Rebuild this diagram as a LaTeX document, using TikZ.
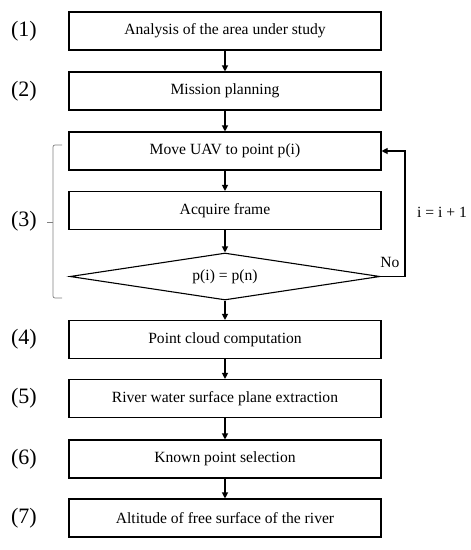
\documentclass[tikz,border=0pt]{standalone}
\usepackage{fontspec}
\setmainfont{Liberation Serif}
\usetikzlibrary{shapes.geometric,arrows.meta}

\begin{document}
\begin{tikzpicture}[x=1pt,y=-1pt,every node/.style = {font=\fontsize{15.6}{18}\selectfont},stage/.style = {shape = rectangle, draw, line width = 1.1pt, minimum width = 312pt, minimum height = 38pt, inner sep = 0pt},test/.style = {shape = diamond, draw, line width = 1.1pt, aspect = 6.5, minimum width = 310pt, minimum height = 47pt, inner sep = 0pt},tag/.style = {font = \fontsize{22}{24}\selectfont},black edge/.style = {-{Triangle[length=6pt,width=6pt]}, line width = 1.1pt}]
\useasboundingbox (0,0) rectangle (471,550);
\node[stage](s1) at (225,31) {Analysis of the area under study};
  \node[stage](s2) at (225,91) {Mission planning};
  \node[stage](s3a) at (225,151) {Move UAV to point p(i)};
  \node[stage](s3b) at (225,210.5) {Acquire frame};
  \node[test](s3c) at (225,276.5) {p(i) = p(n)};
  \node[stage](s4) at (225,339.5) {Point cloud computation};
  \node[stage](s5) at (225,398.5) {River water surface plane extraction};
  \node[stage](s6) at (225,459) {Known point selection};
  \node[stage](s7) at (225,518) {Altitude of free surface of the river};
     \node[tag](l1) at (24,31) {(1)};
     \node[tag](l2) at (24,91) {(2)};
     \node[tag](l3) at (24,221) {(3)};
     \node[tag](l4) at (24,339.5) {(4)};
     \node[tag](l5) at (24,398.5) {(5)};
     \node[tag](l6) at (24,459) {(6)};
     \node[tag](l7) at (24,518) {(7)};
\foreach \a/\b in {s1/s2,s2/s3a,s3a/s3b,s3b/s3c,s3c/s4,s4/s5,s5/s6,s6/s7}
  { \draw[black edge] (\a.south) -- (\b.north); }
% loop back
\coordinate(cb) at (405,276.5);
\coordinate(ct) at (405,151);
\draw[black edge] (s3c.east) -- (cb) -- (ct) -- (s3a.east);
\node(no) at (390,262) {No};
\node(inc) at (442,212) {i = i + 1};
% bracket of step 3
\draw[gray, line width = 0.7pt, rounded corners = 2pt] (62,145) -- (53,145) -- (53,298) -- (62,298);
\draw[gray, line width = 0.7pt] (53,222) -- (47,222);
\end{tikzpicture}
\end{document}
